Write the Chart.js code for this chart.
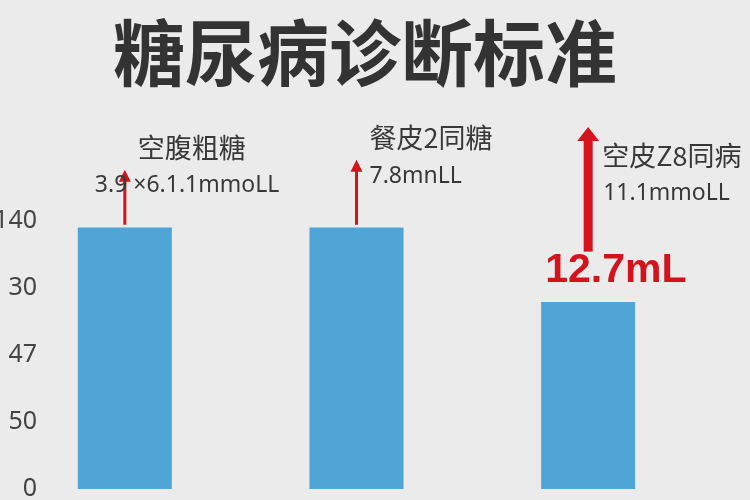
<!DOCTYPE html>
<html>
<head>
<meta charset="utf-8">
<script src="https://cdn.jsdelivr.net/npm/chart.js@4/dist/chart.umd.min.js"></script>
<style>
  html, body { margin: 0; padding: 0; background: #ebebeb; }
  #wrap { width: 750px; height: 500px; }
</style>
</head>
<body>
<div id="wrap"><canvas id="c" width="750" height="500"></canvas></div>
<script>
// ---- data ----
const categories = ['空腹血糖', '餐后2小时血糖', '随机血糖'];
const barValues = [3.9, 3.9, 2.79];
const yTickLabels = ['0', '50', '47', '30', '140'];
const titleText = '糖尿病诊断标准';
const nameLabels = ['空腹粗糖', '餐皮2同糖', '空皮Z8同病'];
const rangeLabels = ['3.9 ×6.1.1mmoLL', '7.8mnLL', '11.1mmoLL'];
const nameLabelY = [5.09, 5.24, 4.97];
const rangeLabelY = [4.52, 4.66, 4.40];
const arrowBase = [3.94, 3.94, 3.54];
const arrowTip = [4.76, 4.91, 5.40];
const highlightText = '12.7mL';
const highlightIndex = 2;
const highlightY = 3.25;

// ---- styles ----
const BAR_COLOR = 'rgb(78,165,214)';
const RED = '#d4141c';
const TEXT = '#383838';
const CJK = "'Noto Sans CJK SC', 'Noto Sans', sans-serif";
const TICK_FONT = { family: "'Noto Sans', sans-serif", size: 25 };
const TICK_RIGHT_EDGE = 37;
const AXIS_WIDTH = 9;
const nameOffset = [13, 13, 14];
const rangeOffset = [-30, 13, 15];
const arrowStyle = [
  { shaft: 3, headW: 12, headL: 12 },
  { shaft: 3, headW: 12, headL: 12 },
  { shaft: 9, headW: 22, headL: 14 }
];

// measure widest tick label so mirrored labels end at the wanted edge
const mctx = document.createElement('canvas').getContext('2d');
mctx.font = `${TICK_FONT.size}px ${TICK_FONT.family}`;
const widestTick = Math.max(...yTickLabels.map(t => mctx.measureText(t).width));

function drawArrow(ctx, x, yBase, yTip, s) {
  ctx.fillStyle = RED;
  ctx.fillRect(x - s.shaft / 2, yTip + s.headL - 1, s.shaft, yBase - yTip - s.headL + 1);
  ctx.beginPath();
  ctx.moveTo(x, yTip);
  ctx.lineTo(x + s.headW / 2, yTip + s.headL);
  ctx.lineTo(x - s.headW / 2, yTip + s.headL);
  ctx.closePath();
  ctx.fill();
}

const annotate = {
  id: 'annotate',
  afterDatasetsDraw(chart) {
    const { ctx, scales: { y } } = chart;
    const meta = chart.getDatasetMeta(0);
    ctx.save();
    meta.data.forEach((bar, i) => {
      const cx = bar.x;
      drawArrow(ctx, cx, y.getPixelForValue(arrowBase[i]), y.getPixelForValue(arrowTip[i]), arrowStyle[i]);
      ctx.fillStyle = TEXT;
      ctx.textAlign = 'left';
      ctx.textBaseline = 'middle';
      ctx.font = `27px ${CJK}`;
      ctx.fillText(nameLabels[i], cx + nameOffset[i], y.getPixelForValue(nameLabelY[i]));
      ctx.font = `23px 'Noto Sans', sans-serif`;
      ctx.fillText(rangeLabels[i], cx + rangeOffset[i], y.getPixelForValue(rangeLabelY[i]));
    });
    const hb = meta.data[highlightIndex];
    ctx.fillStyle = RED;
    ctx.font = `bold 41px 'Liberation Sans', Arial, sans-serif`;
    ctx.textAlign = 'left';
    ctx.textBaseline = 'middle';
    ctx.fillText(highlightText, hb.x - 43, y.getPixelForValue(highlightY));
    ctx.restore();
  }
};

new Chart(document.getElementById('c'), {
  type: 'bar',
  data: {
    labels: categories,
    datasets: [{
      data: barValues,
      backgroundColor: BAR_COLOR,
      borderWidth: 0,
      barPercentage: 0.406,
      categoryPercentage: 1
    }]
  },
  options: {
    responsive: false,
    animation: false,
    layout: { padding: { left: 0, right: 20, top: 0, bottom: 11 } },
    plugins: {
      legend: { display: false },
      tooltip: { enabled: false },
      title: {
        display: true,
        text: titleText,
        color: '#333333',
        font: { family: CJK, size: 72, weight: 'bold', lineHeight: 1.2 },
        padding: { top: 9, bottom: 6 }
      }
    },
    scales: {
      x: { display: false },
      y: {
        min: 0,
        max: 5.78,
        afterFit(s) { s.width = AXIS_WIDTH; },
        grid: { display: false, drawTicks: false },
        border: { display: false },
        ticks: {
          stepSize: 1,
          mirror: true,
          crossAlign: 'far',
          padding: TICK_RIGHT_EDGE - AXIS_WIDTH - widestTick,
          color: '#444444',
          font: TICK_FONT,
          callback(v) {
            return (Number.isInteger(v) && v < yTickLabels.length) ? yTickLabels[v] : '';
          }
        }
      },
      yPad: {
        position: 'right',
        display: true,
        afterFit(s) { s.width = 26; },
        grid: { display: false, drawTicks: false },
        border: { display: false },
        ticks: { display: false }
      }
    }
  },
  plugins: [annotate]
});
</script>
</body>
</html>
